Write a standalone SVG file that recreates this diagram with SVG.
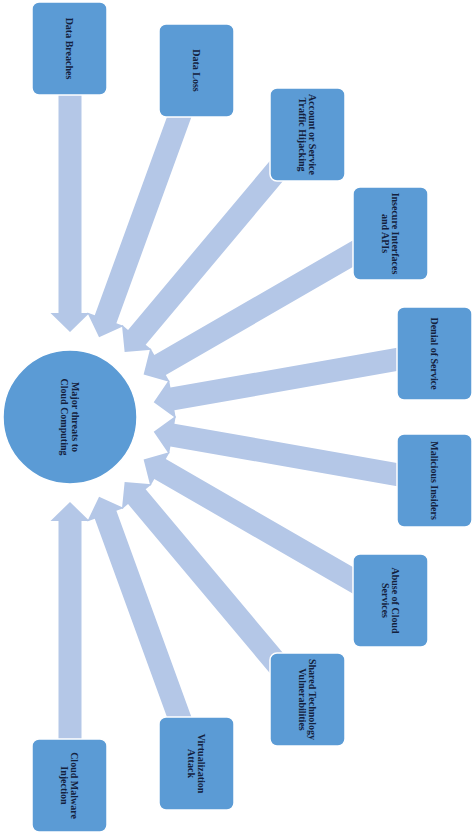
<svg xmlns="http://www.w3.org/2000/svg" width="474" height="835" viewBox="0 0 474 835">
<defs>
<style>
.arrow{fill:#b4c7e7;stroke:none}
.box{fill:#5b9bd5;stroke:#ffffff;stroke-width:1.5}
.hub{fill:#5b9bd5;stroke:#ffffff;stroke-width:1.5}
.lbl{font-family:"Liberation Serif","Times New Roman",serif;font-size:10px;font-weight:bold;fill:#14213d;text-anchor:middle}
</style>
<path id="arw" d="M85,0 L104,-19.5 L104,-11.5 L350,-11.5 L350,11.5 L104,11.5 L104,19.5 Z"/>
</defs>
<rect x="0" y="0" width="474" height="835" fill="#ffffff"/>
<g id="connectors" class="arrow" transform="translate(70,417)">
<use href="#arw" transform="rotate(-90)"/>
<use href="#arw" transform="rotate(-70)"/>
<use href="#arw" transform="rotate(-50)"/>
<use href="#arw" transform="rotate(-30)"/>
<use href="#arw" transform="rotate(-10)"/>
<use href="#arw" transform="rotate(10)"/>
<use href="#arw" transform="rotate(30)"/>
<use href="#arw" transform="rotate(50)"/>
<use href="#arw" transform="rotate(70)"/>
<use href="#arw" transform="rotate(90)"/>
</g>
<g id="hub">
<circle class="hub" cx="70" cy="417" r="67"/>
<text class="lbl" transform="translate(70,417) rotate(90)"><tspan x="0" y="-2">Major threats to</tspan><tspan x="0" y="9.5">Cloud Computing</tspan></text>
</g>
<g id="n1">
<rect class="box" x="32" y="2" width="75" height="93" rx="7"/>
<text class="lbl" transform="translate(69.5,48.5) rotate(90)" y="3.5">Data Breaches</text>
</g>
<g id="n2">
<rect class="box" x="159" y="24" width="75" height="93" rx="7"/>
<text class="lbl" transform="translate(196.5,70.5) rotate(90)" y="3.5">Data Loss</text>
</g>
<g id="n3">
<rect class="box" x="270" y="88" width="75" height="93" rx="7"/>
<text class="lbl" transform="translate(307.5,134.5) rotate(90)"><tspan x="0" y="-1.8">Account or Service</tspan><tspan x="0" y="8.7">Traffic Hijacking</tspan></text>
</g>
<g id="n4">
<rect class="box" x="353" y="187" width="75" height="93" rx="7"/>
<text class="lbl" transform="translate(390.5,233.5) rotate(90)"><tspan x="0" y="-1.8">Insecure Interfaces</tspan><tspan x="0" y="8.7">and APIs</tspan></text>
</g>
<g id="n5">
<rect class="box" x="397" y="307" width="75" height="93" rx="7"/>
<text class="lbl" transform="translate(434.5,353.5) rotate(90)" y="3.5">Denial of Service</text>
</g>
<g id="n6">
<rect class="box" x="397" y="434" width="75" height="93" rx="7"/>
<text class="lbl" transform="translate(434.5,480.5) rotate(90)" y="3.5">Malicious Insiders</text>
</g>
<g id="n7">
<rect class="box" x="353" y="554" width="75" height="93" rx="7"/>
<text class="lbl" transform="translate(390.5,600.5) rotate(90)"><tspan x="0" y="-1.8">Abuse of Cloud</tspan><tspan x="0" y="8.7">Services</tspan></text>
</g>
<g id="n8">
<rect class="box" x="270" y="653" width="75" height="93" rx="7"/>
<text class="lbl" transform="translate(307.5,699.5) rotate(90)"><tspan x="0" y="-1.8">Shared Technology</tspan><tspan x="0" y="8.7">Vulnerabilities</tspan></text>
</g>
<g id="n9">
<rect class="box" x="159" y="717" width="75" height="93" rx="7"/>
<text class="lbl" transform="translate(196.5,763.5) rotate(90)"><tspan x="0" y="-1.8">Virtualization</tspan><tspan x="0" y="8.7">Attack</tspan></text>
</g>
<g id="n10">
<rect class="box" x="32" y="739" width="75" height="93" rx="7"/>
<text class="lbl" transform="translate(69.5,785.5) rotate(90)"><tspan x="0" y="-1.8">Cloud Malware</tspan><tspan x="0" y="8.7">Injection</tspan></text>
</g>
</svg>
